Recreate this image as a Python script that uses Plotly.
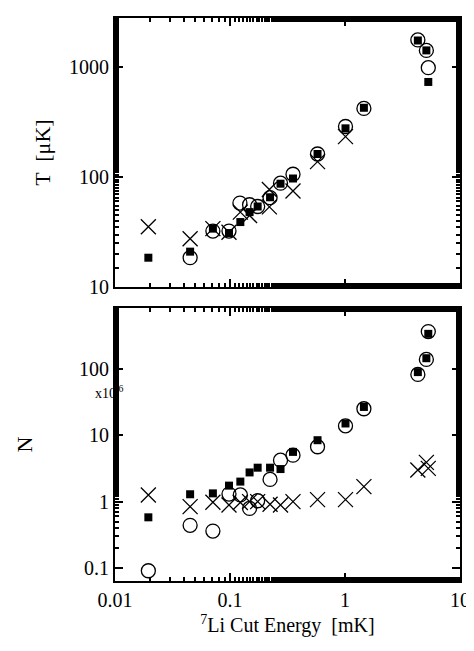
import plotly.graph_objects as go
import math

x_all = [0.0195, 0.045, 0.071, 0.098, 0.123, 0.148, 0.174, 0.223, 0.275, 0.353, 0.577, 1.01, 1.46, 4.3, 5.1, 5.3]

T_sq = [18.5, 21, 34, 31, 39, 48, 54, 65.5, 87, 97, 162, 277, 426, 1740, 1415, 731]
T_ci_x = [0.045, 0.071, 0.098, 0.122, 0.148, 0.174, 0.223, 0.275, 0.353, 0.577, 1.01, 1.46, 4.3, 5.1, 5.3]
T_ci = [18.5, 32.3, 32.3, 58, 56, 54, 65, 88, 106, 162, 288, 420, 1760, 1415, 986]
T_x_x = [0.0195, 0.045, 0.071, 0.098, 0.123, 0.148, 0.22, 0.22, 0.353, 0.577, 1.01]
T_x = [35.3, 27.5, 34, 31.5, 48, 44.7, 77, 53.6, 74.6, 138, 233]

N_sq = [0.58, 1.29, 1.33, 1.74, 2.0, 2.75, 3.24, 3.24, 3.09, 5.6, 8.4, 15, 26.6, 89, 144, 335]
N_ci = [0.091, 0.44, 0.36, 1.30, 1.26, 0.79, 1.03, 2.16, 4.2, 5.0, 6.7, 13.8, 25, 82, 138, 363]
N_x = [1.26, 0.84, 0.98, 0.89, 0.97, 1.0, 1.0, 0.91, 0.89, 1.0, 1.07, 1.07, 1.68, 2.99, 3.89, 3.16]

FONT = "Liberation Serif, Times New Roman, serif"
sq = dict(symbol="square", size=8, color="black")
ci = dict(symbol="circle-open", size=14, color="black", line=dict(width=1.3))
cr = dict(symbol="x-thin-open", size=15, color="black", line=dict(width=1.3, color="black"))

fig = go.Figure()
fig.add_trace(go.Scatter(x=x_all, y=T_sq, mode="markers", marker=sq, xaxis="x", yaxis="y"))
fig.add_trace(go.Scatter(x=T_ci_x, y=T_ci, mode="markers", marker=ci, xaxis="x", yaxis="y"))
fig.add_trace(go.Scatter(x=T_x_x, y=T_x, mode="markers", marker=cr, xaxis="x", yaxis="y"))
fig.add_trace(go.Scatter(x=x_all, y=N_sq, mode="markers", marker=sq, xaxis="x2", yaxis="y2"))
fig.add_trace(go.Scatter(x=x_all, y=N_ci, mode="markers", marker=ci, xaxis="x2", yaxis="y2"))
fig.add_trace(go.Scatter(x=x_all, y=N_x, mode="markers", marker=cr, xaxis="x2", yaxis="y2"))

ax = dict(type="log", showline=True, linewidth=2, linecolor="black", mirror="allticks",
          ticks="inside", ticklen=8, tickwidth=1.5, tickcolor="black", showgrid=False, zeroline=False,
          minor=dict(ticks="inside", ticklen=4, tickcolor="black", showgrid=False),
          tickfont=dict(family=FONT, size=20, color="black"))

fig.update_layout(
    width=474, height=651, showlegend=False,
    plot_bgcolor="white", paper_bgcolor="white",
    margin=dict(l=107, r=22, t=8, b=78),
    font=dict(family=FONT, color="black"),
    xaxis=dict(ax, anchor="y", domain=[0, 1], range=[-2, 1], showticklabels=False,
               tickvals=[0.01, 0.1, 1, 10]),
    yaxis=dict(ax, domain=[0.522, 1], range=[1, 3.445], tickvals=[10, 100, 1000],
               ticktext=["10", "100", "1000"],
               title=dict(text="T  [μK]", font=dict(family=FONT, size=22), standoff=12)),
    xaxis2=dict(ax, anchor="y2", domain=[0, 1], range=[-2, 1],
                tickvals=[0.01, 0.1, 1, 10], ticktext=["0.01", "0.1", "1", "10"],
                title=dict(text="<sup>7</sup>Li Cut Energy  [mK]", font=dict(family=FONT, size=20), standoff=8)),
    yaxis2=dict(ax, domain=[0, 0.485], range=[-1.195, 2.915], tickvals=[0.1, 1, 10, 100],
                ticktext=["0.1", "1", "10", "100"],
                title=dict(text="N", font=dict(family=FONT, size=22), standoff=40)),
)
fig.add_annotation(xref="paper", yref="paper", x=0.03, y=0.335, xanchor="right", yanchor="middle",
                   text="x10<sup> 6</sup>", showarrow=False, font=dict(family=FONT, size=14, color="black"))
fig.write_html("out.html")
